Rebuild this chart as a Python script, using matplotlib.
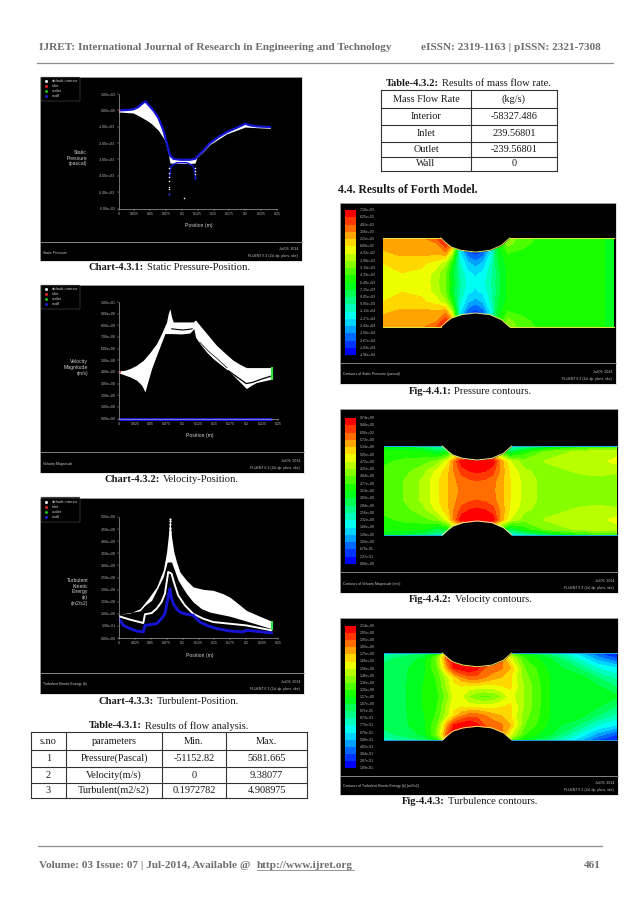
import numpy as np
import matplotlib
matplotlib.use('Agg')
import matplotlib.pyplot as plt
from matplotlib.colors import LinearSegmentedColormap, BoundaryNorm
from matplotlib.lines import Line2D

W, H = 638, 902
SERIF = 'Liberation Serif'
SANS = 'Liberation Sans'

# ---------- tables ----------
table1_head = ['s.no', 'parameters', 'Min.', 'Max.']
table1_rows = [['1', 'Pressure(Pascal)', '-51152.82', '5681.665'],
               ['2', 'Velocity(m/s)', '0', '9.38077'],
               ['3', 'Turbulent(m2/s2)', '0.1972782', '4.908975']]
table2_head = ['Mass Flow Rate', '(kg/s)']
table2_rows = [['Interior', '-58327.486'], ['Inlet', '239.56801'],
               ['Outlet', '-239.56801'], ['Wall', '0']]

# ---------- chart 4.3.1 : static pressure (Pa) ----------
p_top_x = [0, .0127, .0232, .0311, .0374, .0422, .0469, .0549, .0628, .0707, .077, .0812, .0865, .097, .1129, .1208,
           .126, .134, .1445, .1577, .1709, .1867, .1999, .2078, .2184, .2395]
p_top_y = [0, 20, 60, 200, 410, 550, 350, 0, -450, -1220, -2140, -2755, -2960, -3020, -3020, -2960,
           -2755, -2450, -2000, -1630, -1330, -1060, -820, -920, -980, -1020]
p_low_x = [0, .0232, .0338, .0443, .0522, .0628, .0733, .0786, .0812, .097, .1129, .1208, .1234, .134, .1445, .1709,
           .1999, .2184, .2395]
p_low_y = [-100, -160, -370, -610, -820, -1220, -1840, -2650, -3220, -3245, -3245, -3220, -2900, -2510, -2080, -1430,
           -1020, -1060, -1100]
p_arc_x = [.0805, .083, .092, .108, .118, .1215]
p_arc_y = [-4100, -3400, -3200, -3200, -3400, -4100]
p_spike_x = [.0795, .0795, .0795, .0795, .0795, .0795, .0795, .1205, .1205, .1205, .1205, .103]
p_spike_y = [-3500, -3800, -4100, -4300, -4700, -4800, -5100, -3500, -3700, -3900, -4150, -5330]
p_ticks = [1000, 0, -1000, -2000, -3000, -4000, -5000, -6000]
p_ticklabels = ['1.00e+03', '0.00e+00', '-1.00e+03', '-2.00e+03', '-3.00e+03', '-4.00e+03', '-5.00e+03', '-6.00e+03']

# ---------- chart 4.3.2 : velocity (m/s) ----------
v_top_x = [0, .0094, .0173, .0277, .0382, .0486, .0591, .0669, .0748, .0774, .08, .0826, .0853, .1166, .1203, .1271,
           .1402, .1532, .1663, .1794, .1898, .2003, .2395]
v_top_y = [4.09, 4.14, 4.29, 4.57, 5, 5.66, 6.43, 7.29, 8.29, 9, 9.43, 8.71, 8.29, 8.29, 8.46, 8,
           7.14, 6.29, 5.63, 5, 4.66, 4.37, 4.37]
v_low_x = [0, .0173, .0277, .0356, .0408, .0445, .0513, .0591, .0722, .0826, .0983, .1114, .1177, .1203, .1271, .1376,
           .148, .1742, .1872, .2003, .2082, .216, .2395]
v_low_y = [3.91, 3.57, 3.29, 2.86, 2.29, 3, 4.29, 5.43, 7.29, 7.29, 7.26, 7.34, 7.71, 7, 6.43, 5.71,
           5.14, 4, 3.29, 2.57, 2.86, 3.09, 3.37]
v_slit1_x = [.083, .09, .1, .11, .115]
v_slit1_y = [7.7, 7.65, 7.6, 7.65, 7.7]
v_slit2_x = [.127, .14, .153, .17]
v_slit2_y = [6.55, 5.8, 5.2, 4.35]
v_slit3_x = [.172, .2, .21, .225, .24]
v_slit3_y = [4.1, 3.0, 3.1, 3.4, 3.65]
v_wall_x = [0, .24]
v_wall_y = [0, 0]
v_outlet_y = [3.3, 4.4]
v_ticks = [10, 9, 8, 7, 6, 5, 4, 3, 2, 1, 0]
v_ticklabels = ['1.00e+01', '9.00e+00', '8.00e+00', '7.00e+00', '6.00e+00', '5.00e+00', '4.00e+00', '3.00e+00', '2.00e+00', '1.00e+00', '0.00e+00']

# ---------- chart 4.3.3 : turbulent kinetic energy ----------
t_top_x = [0, .0173, .033, .046, .0591, .0696, .0748, .0774, .08, .0826, .0863, .0905, .0957, .1062, .1166, .1323,
           .148, .1637, .1742, .1872, .2003, .2212, .2395]
t_top_y = [.98, 1.03, 1.21, 1.63, 2.11, 2.8, 3.55, 4.17, 4.93, 4.17, 3.55, 3.14, 2.73, 2.38, 2.11, 2.01,
           1.97, 1.83, 1.69, 1.42, 1.14, .9, .7]
t_low_x = [0, .033, .0408, .0513, .0591, .0696, .0758, .0826, .0863, .0931, .1062, .1166, .1297, .1428, .1742, .2003, .2395]
t_low_y = [.98, 1.12, 1.35, 1.56, 1.97, 2.53, 3.14, 3.14, 2.87, 2.38, 1.83, 1.49, 1.21, 1.07, .9, .7, .39]
t_mid_x = [0, .0173, .0382, .0408, .0513, .0591, .0669, .0722, .0758, .0774, .0826, .0863, .0931, .1036, .1166, .1323,
           .148, .2003, .2395]
t_mid_y = [.9, .76, .62, .98, 1.03, 1.21, 1.49, 1.83, 2.45, 2.73, 2.66, 2.31, 1.76, 1.35, 1.0, .8, .66, .52, .32]
t_wall_x = [0, .0068, .0173, .0277, .0382, .0408, .0486, .0591, .0669, .0722, .0764, .0800, .0821, .0853, .0905, .0957,
            .1062, .1166, .1219, .1271, .1402, .1532, .1742, .1951, .2003, .2212, .2395]
t_wall_y = [.80, .52, .39, .29, .25, .52, .55, .59, .8, 1.0, 1.56, 2.04, 1.69, 1.42, 1.21, 1.07,
            .98, .94, .8, .66, .5, .39, .29, .25, .32, .26, .21]
t_spine_x = [.08, .08, .08, .08, .08, .08]
t_spine_y = [4.2, 4.4, 4.55, 4.7, 4.85, 4.93]
t_ticks = [5, 4.5, 4, 3.5, 3, 2.5, 2, 1.5, 1, .5, 0]
t_ticklabels = ['5.00e+00', '4.50e+00', '4.00e+00', '3.50e+00', '3.00e+00', '2.50e+00', '2.00e+00', '1.50e+00', '1.00e+00', '5.00e-01', '0.00e+00']

x_ticks = [0, .025, .05, .075, .1, .125, .15, .175, .2, .225, .25]
x_ticklabels = ['0', '0.025', '0.05', '0.075', '0.1', '0.125', '0.15', '0.175', '0.2', '0.225', '0.25']
legend_names = ['default-interior', 'inlet', 'outlet', 'wall']
legend_colors = ['white', '#e02020', '#20c020', '#2020e0']

# ---------- contour fields (percent of colour scale), centre line to wall ----------
grid_x = [0, .02, .04, .055, .065, .072, .08, .088, .096, .104, .112, .12, .13, .145, .17, .2, .22, .24]
grid_y = [0, .01, .02, .03, .04, .046]
wall_x = [0, .06, .066, .071, .0814, .096, .111, .123, .1316, .24]
wall_y = [.046, .046, .0405, .0366, .0332, .0315, .0332, .0384, .046, .046]

pressure_field = [
    [75, 75, 74, 67, 60, 48, 36, 28, 26, 28, 34, 43, 51, 55, 55, 52, 51, 49],
    [75, 75, 74, 68, 60, 47, 34, 26, 24, 26, 33, 43, 51, 54, 55, 52, 51, 49],
    [75, 77, 76, 73, 66, 52, 31, 21, 17, 21, 31, 45, 52, 54, 54, 52, 51, 49],
    [79, 81, 81, 81, 83, 66, 26, 12, 8, 12, 26, 47, 55, 54, 53, 52, 51, 49],
    [82, 82, 82, 84, 94, 85, 30, 8, 3, 8, 30, 50, 62, 56, 53, 52, 51, 49],
    [84, 84, 84, 90, 100, 90, 35, 8, 3, 8, 30, 50, 64, 57, 53, 52, 51, 49]]
velocity_field = [
    [58, 60, 66, 74, 79, 83, 86, 88, 88, 88, 86, 82, 75, 68, 62, 62, 62, 62],
    [58, 60, 66, 74, 79, 84, 87, 89, 90, 89, 87, 82, 75, 68, 62, 62, 62, 62],
    [56, 58, 63, 72, 78, 85, 92, 95, 96, 95, 92, 84, 74, 66, 62, 66, 68, 66],
    [54, 56, 58, 62, 72, 86, 98, 100, 100, 100, 98, 84, 70, 62, 66, 70, 68, 72],
    [52, 52, 50, 44, 48, 60, 70, 80, 85, 80, 70, 55, 42, 52, 62, 66, 68, 68],
    [46, 44, 40, 32, 30, 35, 40, 40, 40, 40, 40, 35, 28, 32, 42, 50, 54, 56]]
turbulence_field = [
    [44, 44, 50, 54, 62, 72, 70, 64, 60, 58, 60, 64, 72, 64, 50, 47, 46, 46],
    [44, 44, 50, 55, 66, 74, 74, 72, 72, 72, 72, 74, 76, 64, 50, 48, 46, 40],
    [43, 44, 49, 56, 68, 76, 84, 88, 88, 85, 82, 80, 76, 62, 50, 48, 40, 33],
    [42, 44, 48, 60, 82, 95, 98, 100, 96, 90, 88, 86, 80, 60, 49, 40, 30, 25],
    [38, 42, 46, 62, 90, 100, 100, 100, 100, 95, 90, 88, 72, 55, 46, 30, 18, 10],
    [30, 36, 40, 52, 80, 90, 90, 90, 90, 85, 80, 75, 60, 48, 38, 22, 10, 5]]

pressure_bar = ['7.10e+03', '6.25e+03', '4.81e+03', '3.56e+03', '2.21e+03', '6.89e+02', '-4.02e+02', '-1.98e+03',
                '-3.19e+03', '-4.39e+03', '-5.40e+03', '-7.25e+03', '-8.05e+03', '-9.95e+03', '-1.13e+04', '-1.27e+04',
                '-1.43e+04', '-1.56e+04', '-1.67e+04', '-1.83e+04', '-1.96e+04']
velocity_bar = ['9.74e+00', '9.44e+00', '6.96e+00', '5.73e+00', '5.34e+00', '5.05e+00', '4.72e+00', '4.25e+00',
                '4.04e+00', '3.77e+00', '3.23e+00', '3.03e+00', '2.84e+00', '2.56e+00', '2.32e+00', '1.86e+00',
                '1.39e+00', '1.03e+00', '6.76e-01', '2.37e-01', '0.00e+00']
turbulence_bar = ['2.14e+00', '2.05e+00', '1.95e+00', '1.85e+00', '1.75e+00', '1.66e+00', '1.56e+00', '1.46e+00',
                  '1.36e+00', '1.26e+00', '1.17e+00', '1.07e+00', '9.71e-01', '8.73e-01', '7.75e-01', '6.78e-01',
                  '5.80e-01', '4.82e-01', '3.84e-01', '2.87e-01', '1.89e-01']

fluent = LinearSegmentedColormap.from_list('fluent', ['#0000ff', '#00ffff', '#00ff00', '#ffff00', '#ff0000'])
levels = np.linspace(0, 100, 21)
bands = BoundaryNorm(levels, 256)

fig = plt.figure(figsize=(W / 100, H / 100), dpi=100, facecolor='white')


def rect_axes(x0, y0, x1, y1, z=1):
    return fig.add_axes([x0 / W, 1 - y1 / H, (x1 - x0) / W, (y1 - y0) / H], zorder=z)


page = rect_axes(0, 0, W, H, z=5)
page.set_xlim(0, W)
page.set_ylim(H, 0)
page.axis('off')
page.patch.set_alpha(0)


def txt(x, y, s, size=7.4, color='#1a1a1a', ha='center', weight='normal', family=SERIF, **kw):
    return page.text(x, y, s, fontsize=size, color=color, ha=ha, va='center', fontweight=weight, family=family, **kw)


def caption(xc, y, bold, rest, size=7.6):
    t1 = txt(xc, y, bold, size=size, weight='bold', ha='left')
    t2 = txt(xc, y, rest, size=size, ha='left')
    r = fig.canvas.get_renderer()
    w1 = t1.get_window_extent(r).width
    w2 = t2.get_window_extent(r).width
    x0 = xc - (w1 + w2 + 3) / 2
    t1.set_x(x0)
    t2.set_x(x0 + w1 + 3)


def panel(x0, y0, x1, y1, ysep, left, date, solver):
    a = rect_axes(x0, y0, x1, y1)
    a.set_facecolor('black')
    a.set_xticks([])
    a.set_yticks([])
    for s in a.spines.values():
        s.set_color('#d8d8d8')
        s.set_linewidth(.5)
    page.plot([x0, x1], [ysep, ysep], color='#9a9a9a', lw=.6)
    txt(x0 + 3, (ysep + y1) / 2 + 1, left, size=2.5, color='#cccccc', ha='left', family=SANS)
    txt(x1 - 4, y1 - 12, date, size=2.5, color='#cccccc', ha='right', family=SANS)
    txt(x1 - 4, y1 - 5, solver, size=2.5, color='#cccccc', ha='right', family=SANS)


def chart(rect, ysep, box, ylim, yticks, yticklabels, ylabel, ylab_xy, xlab_y, left, solver):
    x0, y0, x1, y1 = rect
    panel(x0, y0, x1, y1, ysep, left, 'Jul 09, 2014', solver)
    ax = rect_axes(*box, z=2)
    ax.set_facecolor('none')
    ax.set_xlim(0, .25)
    ax.set_ylim(*ylim)
    for s in ['top', 'right']:
        ax.spines[s].set_visible(False)
    for s in ['left', 'bottom']:
        ax.spines[s].set_color('#cccccc')
        ax.spines[s].set_linewidth(.4)
    ax.set_xticks(x_ticks, x_ticklabels)
    ax.set_yticks(yticks, yticklabels)
    ax.tick_params(colors='#bbbbbb', labelsize=2.5, length=1.2, width=.3, pad=1)
    for t in ax.get_xticklabels() + ax.get_yticklabels():
        t.set_family(SANS)
    txt(ylab_xy[0], ylab_xy[1], ylabel, size=3.7, color='#cfcfcf', ha='right', family=SANS, linespacing=1.25)
    txt((box[0] + box[2]) / 2 + 1, xlab_y, 'Position (m)', size=3.7, color='#cfcfcf', family=SANS)
    handles = [Line2D([], [], ls='', marker='s', ms=1, color=c) for c in legend_colors]
    leg = ax.legend(handles, legend_names, loc='upper left', bbox_to_anchor=((x0 + 1) / W, 1 - (y0 - .5) / H),
                    bbox_transform=fig.transFigure, fontsize=3.0, labelcolor='#cccccc', handletextpad=.6,
                    labelspacing=.25, borderpad=.6, borderaxespad=0, frameon=True, fancybox=False,
                    facecolor='black', edgecolor='#888888', handlelength=1.4, numpoints=1)
    leg.get_frame().set_linewidth(.3)
    for t in leg.get_texts():
        t.set_family(SANS)
    return ax


def smooth_band(ax, xa, ya, xb, yb, **kw):
    """Fill between two hand-read envelopes that have different knots."""
    xs = np.array(sorted(set(xa) | set(xb)))
    ax.fill_between(xs, np.interp(xs, xa, ya), np.interp(xs, xb, yb), lw=0, **kw)


# ---------- chart 1 ----------
ax = chart((40, 77, 302, 261), 242, (118.5, 94, 277, 208.5), (-6000, 1000), p_ticks, p_ticklabels,
           'Static\nPressure\n(pascal)', (87, 158), 225, 'Static Pressure', 'FLUENT 6.3 (2d, dp, pbns, ske)')
smooth_band(ax, p_top_x, p_top_y, p_low_x, p_low_y, color='white')
ax.plot(p_top_x, p_top_y, color='#1414d2', lw=1.6, solid_capstyle='round')
ax.plot(p_arc_x, p_arc_y, color='#1414d2', lw=1.0)
ax.plot(p_spike_x, p_spike_y, ls='', marker='o', ms=1.1, color='white', mew=0)
ax.plot([.0795, .1205], [-5100, -4150], ls='', marker='o', ms=1.6, color='#1414d2', mew=0)
ax.plot([0], [0], ls='', marker='s', ms=1.2, color='#e02020', mew=0)

# ---------- chart 2 ----------
ax = chart((40, 285, 304, 473), 452, (119, 302, 278, 418.5), (0, 10), v_ticks, v_ticklabels,
           'Velocity\nMagnitude\n(m/s)', (88, 367), 436, 'Velocity Magnitude', 'FLUENT 6.3 (2d, dp, pbns, ske)')
smooth_band(ax, v_top_x, v_top_y, v_low_x, v_low_y, color='white')
ax.plot(v_slit1_x, v_slit1_y, color='black', lw=.8)
ax.plot(v_slit2_x, v_slit2_y, color='black', lw=.5)
ax.plot(v_slit3_x, v_slit3_y, color='black', lw=.9)
ax.plot(v_wall_x, v_wall_y, color='#1414d2', lw=2.2, solid_capstyle='butt', clip_on=False)
ax.plot([.24, .24], v_outlet_y, color='#30e040', lw=1.6, solid_capstyle='butt')
ax.plot([0, .003], [4, 4], color='#e02020', lw=1.2, solid_capstyle='butt')

# ---------- chart 3 ----------
ax = chart((40, 498, 304, 694), 673, (119, 517, 278, 638), (0, 5), t_ticks, t_ticklabels,
           'Turbulent\nKinetic\nEnergy\n(k)\n(m2/s2)', (88, 592), 656, 'Turbulent Kinetic Energy (k)', 'FLUENT 6.3 (2d, dp, pbns, ske)')
smooth_band(ax, t_top_x, t_top_y, t_low_x, t_low_y, color='white')
ax.plot(t_mid_x, t_mid_y, color='white', lw=1.4)
ax.plot(t_wall_x, t_wall_y, color='#1414d2', lw=2.1)
ax.plot(t_spine_x, t_spine_y, ls='', marker='o', ms=1.6, color='white', mew=0)
ax.plot([.24, .24], [.33, .70], color='#30e040', lw=1.5, solid_capstyle='butt')


# ---------- contour panels ----------
def contour_panel(rect, ysep, dom, bar, field, bar_labels, left, wall_colors):
    x0, y0, x1, y1 = rect
    panel(x0, y0, x1, y1, ysep, left, 'Jul 09, 2014', 'FLUENT 6.3 (2d, dp, pbns, ske)')
    a = rect_axes(*dom, z=2)
    a.set_facecolor('black')
    a.axis('off')
    half = np.array(field, float)
    yy = np.array(grid_y)
    ys = np.concatenate([-yy[:0:-1], yy])
    zz = np.vstack([half[:0:-1], half])
    a.contourf(grid_x, ys, zz, levels=levels, cmap=fluent, norm=bands, extend='both')
    a.fill_between(wall_x, wall_y, .05, color='black', lw=0)
    a.fill_between(wall_x, -np.array(wall_y), -.05, color='black', lw=0)
    a.set_xlim(0, .24)
    a.set_ylim(-.046, .046)
    straight, curve = wall_colors
    for sgn in (1, -1):
        wy = sgn * np.array(wall_y)
        a.plot(wall_x[:2], wy[:2], color=straight, lw=.7, clip_on=False)
        a.plot(wall_x[-2:], wy[-2:], color=straight, lw=.7, clip_on=False)
        a.plot(wall_x[1:-1], wy[1:-1], color=curve, lw=.7, clip_on=False)
    b = rect_axes(*bar, z=2)
    b.pcolormesh([0, 1], levels, np.array(levels[:-1] + 2.5)[:, None], cmap=fluent, norm=bands)
    b.axis('off')
    n = len(bar_labels)
    for i, lab in enumerate(bar_labels):
        yy_px = bar[1] + (bar[3] - bar[1]) * i / (n - 1)
        txt(bar[2] + 4, yy_px, lab, size=2.5, color='#b8b8b8', ha='left', family=SANS)


contour_panel((340, 203, 616, 384), 363, (383, 238, 614, 327), (345, 210, 356, 355), pressure_field,
              pressure_bar, 'Contours of Static Pressure (pascal)', ('#e8e84a', '#e0e060'))
contour_panel((340, 409, 618, 593), 572, (384, 446, 617, 535), (345, 418, 356, 564), velocity_field,
              velocity_bar, 'Contours of Velocity Magnitude (m/s)', ('#20b0e0', '#f0e890'))
contour_panel((340, 618, 618, 795), 776, (384, 653, 617, 740), (345, 626, 356, 768), turbulence_field,
              turbulence_bar, 'Contours of Turbulent Kinetic Energy (k) (m2/s2)', ('#20a0d8', '#f0e060'))

# ---------- page furniture ----------
GREY = '#6e6e6e'
HS = 8.15
txt(39, 48, 'IJRET: International Journal of Research in Engineering and Technology', size=HS, color=GREY, ha='left', weight='bold')
txt(421, 48, 'eISSN: 2319-1163 | pISSN: 2321-7308', size=HS, color=GREY, ha='left', weight='bold')
page.plot([37, 613], [63, 63], color='#8c8c8c', lw=.9)
page.plot([38, 602], [846, 846], color='#8c8c8c', lw=.9)
txt(39, 865, 'Volume: 03 Issue: 07 | Jul-2014, Available @', size=HS, color=GREY, ha='left', weight='bold')
txt(257, 865, 'http://www.ijret.org', size=HS, color=GREY, ha='left', weight='bold')
page.plot([257, 354], [869.5, 869.5], color=GREY, lw=.5)
txt(601, 865, '461', size=HS, color=GREY, ha='right', weight='bold')

caption(169, 267, 'Chart-4.3.1:', 'Static Pressure-Position.')
caption(172, 480, 'Chart-4.3.2:', 'Velocity-Position.')
caption(169, 701, 'Chart-4.3.3:', 'Turbulent-Position.')
caption(169, 726, 'Table-4.3.1:', 'Results of flow analysis.')
caption(468, 84, 'Table-4.3.2:', 'Results of mass flow rate.')
caption(470, 392, 'Fig-4.4.1:', 'Pressure contours.')
caption(470, 600, 'Fig-4.4.2:', 'Velocity contours.')
caption(470, 802, 'Fig-4.4.3:', 'Turbulence contours.')
txt(338, 190, '4.4. Results of Forth Model.', size=8.5, weight='bold', ha='left')


def table(xs, ys, rows, size=7.4):
    for y in ys:
        page.plot([xs[0], xs[-1]], [y, y], color='#333333', lw=.8)
    for x in xs:
        page.plot([x, x], [ys[0], ys[-1]], color='#333333', lw=.8)
    for r, row in enumerate(rows):
        for c, cell in enumerate(row):
            txt((xs[c] + xs[c + 1]) / 2, (ys[r] + ys[r + 1]) / 2, cell, size=size)


table([31, 66, 162, 226, 307], [732, 750, 767, 783, 798], [table1_head] + table1_rows)
table([381, 471, 557], [90, 108, 125, 142, 157, 171], [table2_head] + table2_rows)

fig.savefig('out.png', dpi=100, facecolor='white')
